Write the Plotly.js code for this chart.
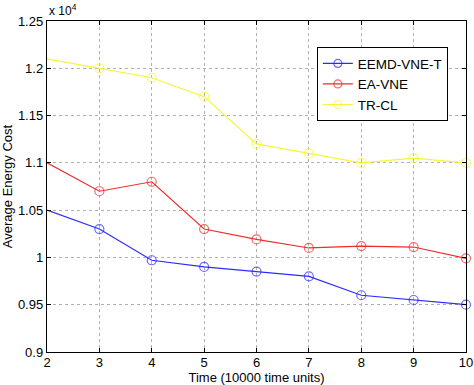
<!DOCTYPE html>
<html>
<head>
<meta charset="utf-8">
<script src="https://cdn.plot.ly/plotly-3.0.1.min.js"></script>
<style>html,body{margin:0;padding:0;background:#fff;}#chart{width:474px;height:385px;}</style>
</head>
<body>
<div id="chart"></div>
<script>
// Data (y values in units of 10^4)
const timeUnits = [2, 3, 4, 5, 6, 7, 8, 9, 10];
const eemdVneT = [1.05, 1.03, 0.997, 0.99, 0.985, 0.98, 0.96, 0.955, 0.95];
const eaVne   = [1.10, 1.07, 1.08, 1.03, 1.019, 1.01, 1.012, 1.011, 0.999];
const trCl    = [1.21, 1.20, 1.19, 1.17, 1.12, 1.11, 1.10, 1.105, 1.10];
const seriesNames = ['EEMD-VNE-T', 'EA-VNE', 'TR-CL'];
const yTickVals = [0.9, 0.95, 1, 1.05, 1.1, 1.15, 1.2, 1.25];
const yTickText = ['0.9', '0.95', '1', '1.05', '1.1', '1.15', '1.2', '1.25'];
const xTickVals = [2, 3, 4, 5, 6, 7, 8, 9, 10];

const colors = ['#2b2bff', '#f02b2b', '#f5f53a'];
const markerSizes = timeUnits.map((t, i) => i === 0 ? 0 : 9);
const FONT = 'Liberation Sans, Arial, sans-serif';

function mk(y, name, color) {
  return {
    x: timeUnits, y: y, name: name, type: 'scatter', mode: 'lines+markers',
    cliponaxis: false,
    line: {color: color, width: 1.2},
    marker: {symbol: 'circle-open', size: markerSizes, color: color, line: {width: 1.2, color: color}}
  };
}
const data = [
  mk(eemdVneT, seriesNames[0], colors[0]),
  mk(eaVne, seriesNames[1], colors[1]),
  mk(trCl, seriesNames[2], colors[2])
];

const axisCommon = {
  showline: true, linecolor: '#000', linewidth: 1.2, mirror: 'ticks',
  ticks: 'inside', ticklen: 4, tickcolor: '#000', tickwidth: 1,
  showgrid: true, gridcolor: '#b0b0b0', griddash: 'dot', gridwidth: 1,
  zeroline: false, automargin: false,
  tickfont: {family: FONT, size: 13, color: '#000'}
};

const layout = {
  width: 474, height: 385,
  margin: {l: 47, r: 8, t: 21, b: 33},
  paper_bgcolor: '#fff', plot_bgcolor: '#fff',
  font: {family: FONT, size: 12, color: '#000'},
  showlegend: true,
  xaxis: Object.assign({}, axisCommon, {
    range: [2, 10], tickmode: 'array', tickvals: xTickVals,
    ticklabelstandoff: -2,
    title: {text: 'Time (10000 time units)', font: {family: FONT, size: 13}, standoff: 0}
  }),
  yaxis: Object.assign({}, axisCommon, {
    range: [0.9, 1.25], tickmode: 'array', tickvals: yTickVals, ticktext: yTickText,
    title: {text: 'Average Energy Cost', font: {family: FONT, size: 13}}
  }),
  legend: {
    x: 0.644, y: 0.921, xanchor: 'left', yanchor: 'top',
    bgcolor: '#fff', bordercolor: '#000', borderwidth: 1,
    font: {family: FONT, size: 13.5, color: '#000'},
    tracegroupgap: 0, itemwidth: 30
  },
  annotations: [{
    text: 'x 10<sup>4</sup>', xref: 'paper', yref: 'paper', x: 0, y: 1,
    xanchor: 'left', yanchor: 'bottom', showarrow: false, yshift: 1,
    font: {family: FONT, size: 12, color: '#000'}
  }]
};

Plotly.newPlot('chart', data, layout, {displayModeBar: false, staticPlot: true});
</script>
</body>
</html>
